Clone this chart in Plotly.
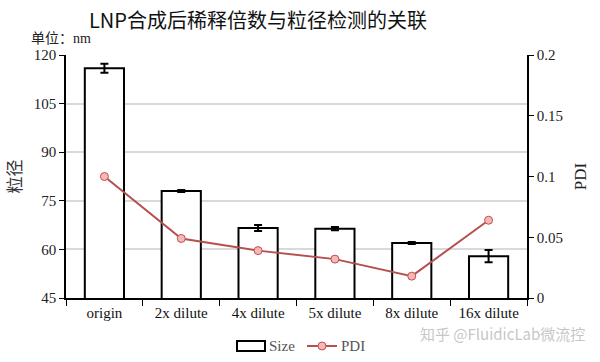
import plotly.graph_objects as go

categories = ["origin", "2x dilute", "4x dilute", "5x dilute", "8x dilute", "16x dilute"]
size_nm = [115.9, 78.0, 66.6, 66.4, 62.0, 57.9]
size_err = [1.4, 0.3, 0.9, 0.5, 0.3, 1.9]
pdi = [0.100, 0.049, 0.039, 0.032, 0.018, 0.064]

serif = "Liberation Serif, Times New Roman, serif"
cjk = "Noto Sans CJK SC, sans-serif"

L, R, T, B = 66, 527, 55, 298
PW, PH = R - L, B - T

def px(x):
    return (x - L) / PW

def py(y):
    return (B - y) / PH

fig = go.Figure()
fig.add_trace(go.Bar(
    x=categories, y=size_nm, name="Size",
    marker=dict(color="white", line=dict(color="black", width=2)),
    width=0.51,
    error_y=dict(type="data", array=size_err, color="black", thickness=2, width=4),
    yaxis="y", showlegend=False,
))
fig.add_trace(go.Scatter(
    x=categories, y=pdi, name="PDI", mode="lines+markers",
    line=dict(color="#B5504F", width=2),
    marker=dict(size=8, color="#F5B8B8", line=dict(color="#C0504D", width=1)),
    yaxis="y2", showlegend=False,
))

fig.update_layout(
    width=600, height=362,
    margin=dict(l=L, r=600 - R, t=T, b=362 - B, autoexpand=False),
    plot_bgcolor="white", paper_bgcolor="white",
    font=dict(family=serif, size=15, color="#222"),
    xaxis=dict(
        type="category", showline=True, linecolor="black", linewidth=1.5,
        ticks="outside", tickson="boundaries", ticklen=6, tickcolor="black",
        tickfont=dict(family=serif, size=15, color="#111"),
        showgrid=False,
    ),
    yaxis=dict(
        range=[45, 120], tickvals=[45, 60, 75, 90, 105, 120],
        showline=True, linecolor="black", linewidth=1.5,
        ticks="outside", ticklen=5, tickcolor="black",
        showgrid=True, gridcolor="#D9D9D9", gridwidth=1.5,
        tickfont=dict(family=serif, size=15, color="#222"),
        title=dict(text="粒径", font=dict(family=cjk, size=17, color="#333"), standoff=8),
        zeroline=False,
    ),
    yaxis2=dict(
        range=[0, 0.2], tickvals=[0, 0.05, 0.1, 0.15, 0.2],
        ticktext=["0", "0.05", "0.1", "0.15", "0.2"],
        overlaying="y", side="right",
        showline=True, linecolor="black", linewidth=1.5,
        ticks="outside", ticklen=5, tickcolor="black",
        showgrid=False, zeroline=False,
        tickfont=dict(family=serif, size=15, color="#222"),
        title=dict(text="PDI", font=dict(family=serif, size=17, color="#222"), standoff=12),
    ),
    bargap=0.49,
)

fig.add_annotation(text="LNP合成后稀释倍数与粒径检测的关联", xref="paper", yref="paper",
                   x=px(258), y=py(19), xanchor="center", yanchor="middle",
                   showarrow=False, font=dict(family=cjk, size=20, color="#111"))
fig.add_annotation(text="单位：<span style='font-family:Liberation Serif'>nm</span>",
                   xref="paper", yref="paper",
                   x=px(29), y=py(37), xanchor="left", yanchor="middle",
                   showarrow=False, font=dict(family=cjk, size=14, color="#222"))
fig.add_annotation(text="知乎 @FluidicLab微流控", xref="paper", yref="paper",
                   x=px(587), y=py(333), xanchor="right", yanchor="middle",
                   showarrow=False, font=dict(family=cjk, size=15, color="rgba(195,195,195,0.95)"))

# legend (drawn manually to match the reference's wide rectangle symbol)
fig.add_shape(type="rect", xref="paper", yref="paper",
              x0=px(237), x1=px(265), y0=py(351), y1=py(341),
              line=dict(color="black", width=2), fillcolor="white")
fig.add_annotation(text="Size", xref="paper", yref="paper", x=px(267), y=py(346),
                   xanchor="left", yanchor="middle", showarrow=False,
                   font=dict(family=serif, size=15, color="#555"))
fig.add_shape(type="line", xref="paper", yref="paper",
              x0=px(307), x1=px(337), y0=py(346), y1=py(346),
              line=dict(color="#B5504F", width=2))
fig.add_shape(type="circle", xref="paper", yref="paper",
              x0=px(318), x1=px(326), y0=py(350), y1=py(342),
              line=dict(color="#C0504D", width=1), fillcolor="#F5B8B8")
fig.add_annotation(text="PDI", xref="paper", yref="paper", x=px(339), y=py(346),
                   xanchor="left", yanchor="middle", showarrow=False,
                   font=dict(family=serif, size=15, color="#555"))

fig.write_html("out.html", config={"displayModeBar": False},
               post_script="document.body.style.margin='0px';")
